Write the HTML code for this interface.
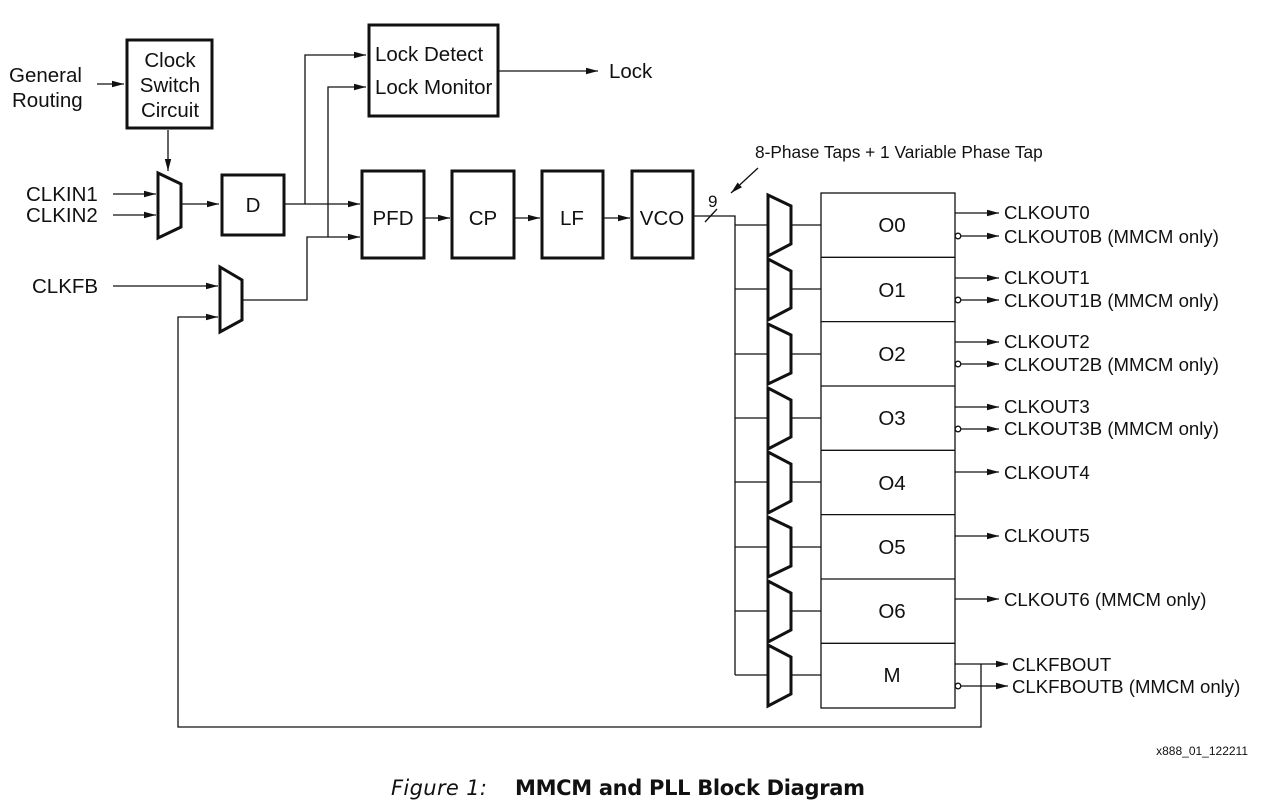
<!DOCTYPE html>
<html><head><meta charset="utf-8"><style>
html,body{margin:0;padding:0;background:#fff;}
svg{display:block;}
text{font-family:"Liberation Sans",sans-serif;fill:#111;}
</style></head><body>
<svg width="1268" height="809" viewBox="0 0 1268 809" xmlns="http://www.w3.org/2000/svg">
<defs>
<marker id="a" markerWidth="12" markerHeight="8" refX="12" refY="4" orient="auto" markerUnits="userSpaceOnUse">
<path d="M0,0.8 L12,4 L0,7.2 Z" fill="#111"/></marker>
</defs>
<g stroke="#111" fill="none" stroke-width="1.3">
<line x1="97" y1="84" x2="124" y2="84" marker-end="url(#a)"/>
<line x1="168" y1="130" x2="168" y2="171" marker-end="url(#a)"/>
<line x1="113" y1="194" x2="156" y2="194" marker-end="url(#a)"/>
<line x1="113" y1="215" x2="156" y2="215" marker-end="url(#a)"/>
<line x1="181" y1="204" x2="219" y2="204" marker-end="url(#a)"/>
<line x1="285" y1="204" x2="360" y2="204" marker-end="url(#a)"/>
<polyline points="305,204 305,55 366,55" marker-end="url(#a)"/>
<polyline points="328,237 328,87 366,87" marker-end="url(#a)"/>
<polyline points="243,300 307,300 307,237 360,237" marker-end="url(#a)"/>
<line x1="113" y1="286" x2="218" y2="286" marker-end="url(#a)"/>
<polyline points="981,664 981,727 178,727 178,317 218,317" marker-end="url(#a)"/>
<line x1="498" y1="71" x2="598" y2="71" marker-end="url(#a)"/>
<line x1="425" y1="218" x2="450" y2="218" marker-end="url(#a)"/>
<line x1="515" y1="218" x2="540" y2="218" marker-end="url(#a)"/>
<line x1="604" y1="218" x2="630" y2="218" marker-end="url(#a)"/>
<polyline points="694,216 735,216 735,675"/>
<line x1="705" y1="222" x2="717" y2="209"/>
<line x1="758" y1="168" x2="731" y2="193" marker-end="url(#a)"/>
</g>
<g stroke="#111" fill="#fff" stroke-width="3">
<rect x="127" y="40" width="85" height="88"/>
<rect x="222" y="175" width="62" height="60"/>
<rect x="369" y="25" width="129" height="91"/>
<rect x="362" y="171" width="62" height="87"/>
<rect x="452" y="171" width="62" height="87"/>
<rect x="542" y="171" width="61" height="87"/>
<rect x="632" y="171" width="61" height="87"/>
<polygon points="158,173 181,184 181,227 158,238"/>
<polygon points="220,267 242,280 242,320 220,332"/>
</g>
<g font-size="20.5" text-anchor="middle">
<text x="170" y="67">Clock</text>
<text x="170" y="92">Switch</text>
<text x="170" y="117">Circuit</text>
<text x="253" y="212">D</text>
<text x="393" y="225">PFD</text>
<text x="483" y="225">CP</text>
<text x="572" y="225">LF</text>
<text x="662" y="225">VCO</text>
</g>
<g font-size="20.5">
<text x="9" y="82">General</text>
<text x="12" y="107">Routing</text>
<text x="26" y="201">CLKIN1</text>
<text x="26" y="222">CLKIN2</text>
<text x="32" y="293">CLKFB</text>
<text x="375" y="61">Lock Detect</text>
<text x="375" y="94">Lock Monitor</text>
<text x="609" y="78">Lock</text>
</g>
<text x="755" y="158" font-size="17.3">8-Phase Taps + 1 Variable Phase Tap</text>
<text x="708" y="207" font-size="17">9</text>

<g stroke="#111" fill="none" stroke-width="1.3">
<rect x="821" y="193" width="134" height="515" fill="#fff"/>
<line x1="821" y1="257.3" x2="955" y2="257.3"/>
<line x1="821" y1="321.6" x2="955" y2="321.6"/>
<line x1="821" y1="386" x2="955" y2="386"/>
<line x1="821" y1="450.3" x2="955" y2="450.3"/>
<line x1="821" y1="514.6" x2="955" y2="514.6"/>
<line x1="821" y1="579" x2="955" y2="579"/>
<line x1="821" y1="643.3" x2="955" y2="643.3"/>
<line x1="735" y1="225" x2="769" y2="225"/><line x1="791" y1="225" x2="821" y2="225"/>
<line x1="735" y1="289" x2="769" y2="289"/><line x1="791" y1="289" x2="821" y2="289"/>
<line x1="735" y1="354" x2="769" y2="354"/><line x1="791" y1="354" x2="821" y2="354"/>
<line x1="735" y1="418" x2="769" y2="418"/><line x1="791" y1="418" x2="821" y2="418"/>
<line x1="735" y1="482" x2="769" y2="482"/><line x1="791" y1="482" x2="821" y2="482"/>
<line x1="735" y1="547" x2="769" y2="547"/><line x1="791" y1="547" x2="821" y2="547"/>
<line x1="735" y1="611" x2="769" y2="611"/><line x1="791" y1="611" x2="821" y2="611"/>
<line x1="735" y1="675" x2="769" y2="675"/><line x1="791" y1="675" x2="821" y2="675"/>
<line x1="955" y1="213" x2="999" y2="213" marker-end="url(#a)"/>
<line x1="961" y1="236" x2="999" y2="236" marker-end="url(#a)"/>
<line x1="955" y1="278" x2="999" y2="278" marker-end="url(#a)"/>
<line x1="961" y1="300" x2="999" y2="300" marker-end="url(#a)"/>
<line x1="955" y1="342" x2="999" y2="342" marker-end="url(#a)"/>
<line x1="961" y1="364" x2="999" y2="364" marker-end="url(#a)"/>
<line x1="955" y1="407" x2="999" y2="407" marker-end="url(#a)"/>
<line x1="961" y1="429" x2="999" y2="429" marker-end="url(#a)"/>
<line x1="955" y1="472" x2="999" y2="472" marker-end="url(#a)"/>
<line x1="955" y1="536" x2="999" y2="536" marker-end="url(#a)"/>
<line x1="955" y1="599" x2="999" y2="599" marker-end="url(#a)"/>
<line x1="955" y1="664" x2="1008" y2="664" marker-end="url(#a)"/>
<line x1="961" y1="686" x2="1008" y2="686" marker-end="url(#a)"/>
<circle cx="958" cy="236" r="2.8" fill="#fff"/>
<circle cx="958" cy="300" r="2.8" fill="#fff"/>
<circle cx="958" cy="364" r="2.8" fill="#fff"/>
<circle cx="958" cy="429" r="2.8" fill="#fff"/>
<circle cx="958" cy="686" r="2.8" fill="#fff"/>
</g>
<g stroke="#111" fill="#fff" stroke-width="3">
<polygon points="768,195 791,206 791,244 768,256"/>
<polygon points="768,259 791,271 791,308 768,320"/>
<polygon points="768,324 791,335 791,373 768,384"/>
<polygon points="768,388 791,400 791,437 768,449"/>
<polygon points="768,452 791,464 791,501 768,513"/>
<polygon points="768,517 791,528 791,566 768,577"/>
<polygon points="768,581 791,593 791,630 768,642"/>
<polygon points="768,645 791,657 791,694 768,706"/>
</g>
<g font-size="20.5" text-anchor="middle">
<text x="892" y="232">O0</text>
<text x="892" y="297">O1</text>
<text x="892" y="361">O2</text>
<text x="892" y="425">O3</text>
<text x="892" y="490">O4</text>
<text x="892" y="554">O5</text>
<text x="892" y="618">O6</text>
<text x="892" y="682">M</text>
</g>
<g font-size="18.6">
<text x="1004" y="219">CLKOUT0</text>
<text x="1004" y="243">CLKOUT0B (MMCM only)</text>
<text x="1004" y="284">CLKOUT1</text>
<text x="1004" y="307">CLKOUT1B (MMCM only)</text>
<text x="1004" y="348">CLKOUT2</text>
<text x="1004" y="371">CLKOUT2B (MMCM only)</text>
<text x="1004" y="413">CLKOUT3</text>
<text x="1004" y="435">CLKOUT3B (MMCM only)</text>
<text x="1004" y="479">CLKOUT4</text>
<text x="1004" y="542">CLKOUT5</text>
<text x="1004" y="606">CLKOUT6 (MMCM only)</text>
<text x="1012" y="671">CLKFBOUT</text>
<text x="1012" y="693">CLKFBOUTB (MMCM only)</text>
</g>
<text x="1248" y="755" font-size="12" text-anchor="end">x888_01_122211</text>
<text x="391" y="795" font-size="21" font-style="italic" textLength="96" style="font-family:'DejaVu Sans','Liberation Sans',sans-serif">Figure 1:</text>
<text x="515" y="795" font-size="21" font-weight="bold" textLength="350" style="font-family:'DejaVu Sans','Liberation Sans',sans-serif">MMCM and PLL Block Diagram</text>
</svg>
</body></html>
